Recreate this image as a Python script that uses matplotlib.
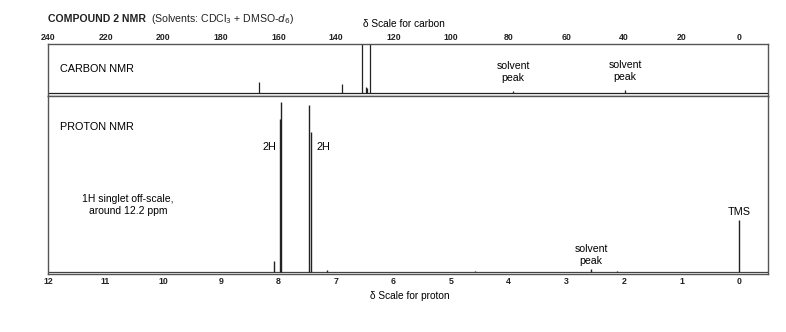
import matplotlib
matplotlib.use("Agg")
import matplotlib.pyplot as plt
import numpy as np

plt.rcParams['font.family'] = ['Liberation Sans', 'DejaVu Sans']

# ---- data ----
carbon_ticks = [240, 220, 200, 180, 160, 140, 120, 100, 80, 60, 40, 20, 0]
carbon_ppm = [166.7, 138.0, 131.0, 129.7, 129.2, 128.3, 78.7, 39.8]
carbon_height = [11, 9.5, 60, 6, 5, 60, 2.5, 3.5]

proton_ticks = [12, 11, 10, 9, 8, 7, 6, 5, 4, 3, 2, 1, 0]
proton_ppm = [8.07, 7.98, 7.95, 7.47, 7.43, 7.15, 4.58, 2.57, 2.12, 0.0]
proton_height = [11, 153, 170, 167, 140, 2, 1.5, 3, 1.5, 52]

W, H = 786, 332
fig = plt.figure(figsize=(W / 100, H / 100), dpi=100)

def fx(px):
    return px / W

def fy(py):
    return 1 - py / H

left, right = 48, 768
axc = fig.add_axes([fx(left), fy(96), fx(right - left), fy(44) - fy(96)])
axp = fig.add_axes([fx(left), fy(274), fx(right - left), fy(96) - fy(274)])

line_col = '#222222'
for ax in (axc, axp):
    for s in ax.spines.values():
        s.set_color('#555555')
        s.set_linewidth(1.0)

# carbon
axc.set_xlim(240, -10)
axc.set_ylim(-3, 49)
axc.plot([240, -10], [0, 0], color=line_col, lw=0.9)
axc.vlines(carbon_ppm, 0, carbon_height, color=line_col, lw=0.9)
axc.set_xticks(carbon_ticks)
axc.set_xticklabels([str(t) for t in carbon_ticks], fontsize=6.3, fontweight='bold',
                    color='#222222')
axc.xaxis.tick_top()
axc.tick_params(axis='x', length=0, pad=1.5)
axc.set_yticks([])

# proton
axp.set_xlim(12, -0.5)
axp.set_ylim(-2, 176)
axp.plot([12, -0.5], [0, 0], color='#444444', lw=0.9)
axp.vlines(proton_ppm, 0, proton_height, color=line_col, lw=1.0)
axp.set_xticks(proton_ticks)
axp.set_xticklabels([str(t) for t in proton_ticks], fontsize=6.3, fontweight='bold',
                    color='#222222')
axp.tick_params(axis='x', length=0, pad=2.5)
axp.set_yticks([])

# texts
fig.text(fx(48), fy(19), "COMPOUND 2 NMR", fontsize=7.6, fontweight='bold',
         ha='left', va='center', color='#222222')
fig.text(fx(151), fy(19), r"(Solvents: CDCl$_3$ + DMSO-$d_6$)", fontsize=7.6,
         ha='left', va='center', color='#222222')
fig.text(fx(404), fy(24), "δ Scale for carbon", fontsize=7.3, ha='center', va='center')
fig.text(fx(410), fy(296), "δ Scale for proton", fontsize=7.3, ha='center', va='center')

fig.text(fx(60), fy(69), "CARBON NMR", fontsize=7.8, ha='left', va='center')
fig.text(fx(60), fy(127), "PROTON NMR", fontsize=7.8, ha='left', va='center')

fig.text(fx(513), fy(72), "solvent\npeak", fontsize=7.6, ha='center', va='center',
         linespacing=1.15)
fig.text(fx(625), fy(71), "solvent\npeak", fontsize=7.6, ha='center', va='center',
         linespacing=1.15)
fig.text(fx(591), fy(255), "solvent\npeak", fontsize=7.6, ha='center', va='center',
         linespacing=1.15)

fig.text(fx(269), fy(147), "2H", fontsize=7.8, ha='center', va='center')
fig.text(fx(323), fy(147), "2H", fontsize=7.8, ha='center', va='center')
fig.text(fx(128), fy(205), "1H singlet off-scale,\naround 12.2 ppm", fontsize=7.5,
         ha='center', va='center', linespacing=1.25)
fig.text(fx(739), fy(212), "TMS", fontsize=7.8, ha='center', va='center')

fig.savefig("out.png", dpi=100)
